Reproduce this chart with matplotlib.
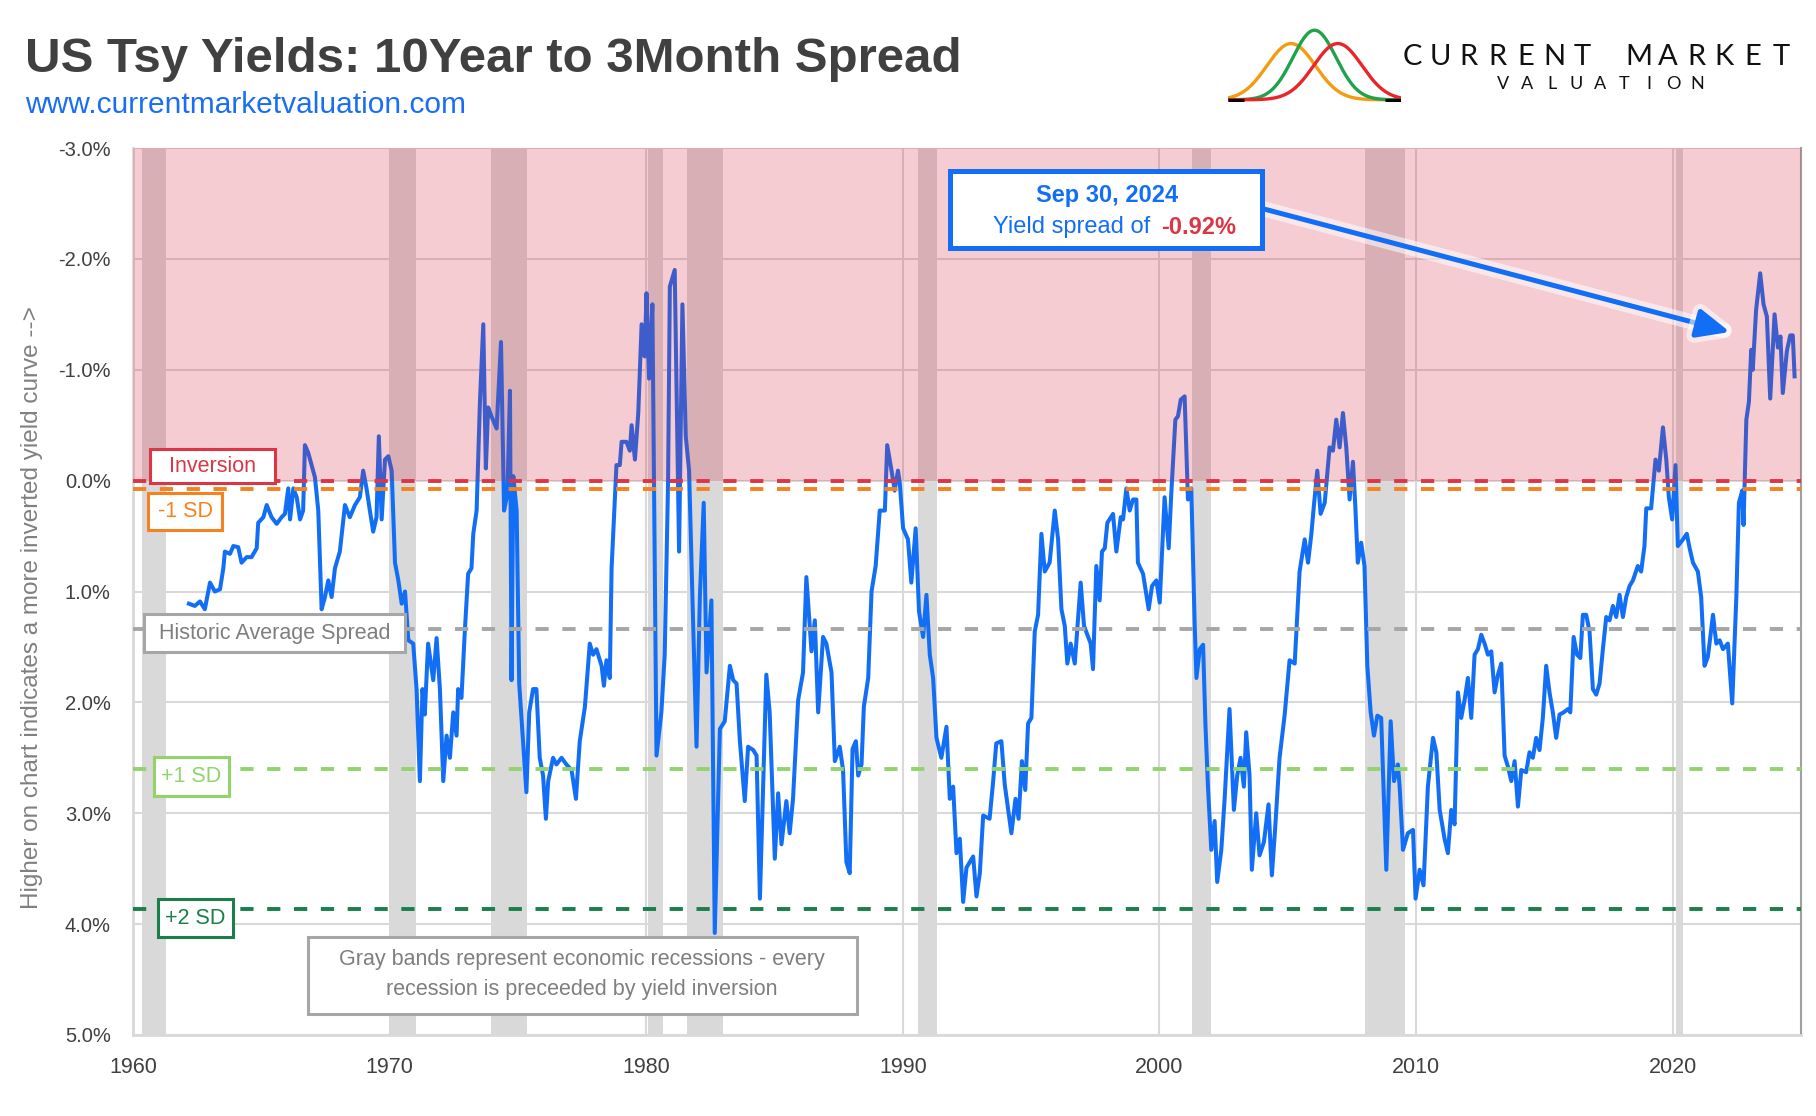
import numpy as np
import matplotlib.pyplot as plt
import matplotlib.patheffects as pe
from matplotlib.patches import Rectangle
from matplotlib.ticker import FuncFormatter

plt.rcParams['font.family'] = ['Liberation Sans', 'DejaVu Sans']

# 10Y minus 3M treasury spread (%)
years = [1962.18, 1962.41, 1962.61, 1962.80, 1963.00, 1963.19, 1963.39, 1963.52, 1963.58, 1963.78,
         1963.91, 1964.10, 1964.23, 1964.43, 1964.62, 1964.82, 1964.88, 1965.08, 1965.21, 1965.40,
         1965.60, 1965.79, 1965.92, 1966.05, 1966.12, 1966.25, 1966.38, 1966.51, 1966.63, 1966.70,
         1966.83, 1966.96, 1967.09, 1967.22, 1967.35, 1967.48, 1967.61, 1967.74, 1967.87, 1968.06,
         1968.26, 1968.45, 1968.65, 1968.84, 1968.97, 1969.10, 1969.23, 1969.36, 1969.49, 1969.58,
         1969.69, 1969.82, 1969.95, 1970.08, 1970.21, 1970.34, 1970.47, 1970.60, 1970.73, 1970.92,
         1971.05, 1971.18, 1971.28, 1971.37, 1971.50, 1971.70, 1971.83, 1971.96, 1972.09, 1972.22,
         1972.35, 1972.48, 1972.61, 1972.67, 1972.80, 1972.93, 1973.06, 1973.19, 1973.26, 1973.39,
         1973.52, 1973.65, 1973.75, 1973.84, 1973.97, 1974.17, 1974.34, 1974.46, 1974.59, 1974.69,
         1974.75, 1974.82, 1974.95, 1975.05, 1975.20, 1975.33, 1975.44, 1975.59, 1975.72, 1975.85,
         1975.98, 1976.09, 1976.18, 1976.37, 1976.50, 1976.70, 1976.89, 1977.09, 1977.26, 1977.41,
         1977.61, 1977.80, 1977.93, 1978.06, 1978.26, 1978.35, 1978.45, 1978.58, 1978.65, 1978.84,
         1978.97, 1979.04, 1979.23, 1979.36, 1979.43, 1979.56, 1979.69, 1979.82, 1979.94, 1980.01,
         1980.11, 1980.24, 1980.40, 1980.59, 1980.72, 1980.85, 1980.92, 1981.11, 1981.28, 1981.41,
         1981.54, 1981.67, 1981.80, 1981.96, 1982.09, 1982.24, 1982.35, 1982.54, 1982.67, 1982.87,
         1983.06, 1983.26, 1983.39, 1983.52, 1983.65, 1983.84, 1983.97, 1984.17, 1984.30, 1984.43,
         1984.68, 1984.81, 1985.01, 1985.14, 1985.27, 1985.46, 1985.59, 1985.72, 1985.92, 1986.11,
         1986.24, 1986.44, 1986.57, 1986.70, 1986.89, 1987.02, 1987.22, 1987.35, 1987.54, 1987.67,
         1987.80, 1987.93, 1988.04, 1988.17, 1988.26, 1988.39, 1988.48, 1988.65, 1988.78, 1988.94,
         1989.10, 1989.30, 1989.39, 1989.56, 1989.68, 1989.81, 1989.88, 1990.01, 1990.20, 1990.33,
         1990.50, 1990.63, 1990.79, 1990.92, 1991.05, 1991.18, 1991.31, 1991.50, 1991.70, 1991.83,
         1991.96, 1992.09, 1992.22, 1992.35, 1992.48, 1992.74, 1992.87, 1993.00, 1993.13, 1993.38,
         1993.52, 1993.64, 1993.84, 1993.97, 1994.23, 1994.39, 1994.51, 1994.64, 1994.77, 1994.88,
         1995.01, 1995.14, 1995.27, 1995.40, 1995.53, 1995.72, 1995.92, 1996.05, 1996.18, 1996.31,
         1996.41, 1996.54, 1996.70, 1996.93, 1997.06, 1997.22, 1997.32, 1997.41, 1997.54, 1997.67,
         1997.76, 1997.87, 1997.97, 1998.19, 1998.32, 1998.49, 1998.58, 1998.71, 1998.84, 1998.97,
         1999.10, 1999.16, 1999.36, 1999.58, 1999.71, 1999.88, 2000.01, 2000.20, 2000.36, 2000.46,
         2000.62, 2000.72, 2000.83, 2000.98, 2001.11, 2001.24, 2001.37, 2001.44, 2001.57, 2001.70,
         2001.79, 2001.89, 2002.02, 2002.15, 2002.25, 2002.41, 2002.54, 2002.73, 2002.90, 2003.03,
         2003.16, 2003.29, 2003.38, 2003.51, 2003.60, 2003.77, 2003.90, 2004.07, 2004.25, 2004.38,
         2004.51, 2004.68, 2004.88, 2005.07, 2005.27, 2005.46, 2005.66, 2005.79, 2005.92, 2006.02,
         2006.15, 2006.28, 2006.44, 2006.63, 2006.76, 2006.89, 2007.02, 2007.15, 2007.28, 2007.41,
         2007.54, 2007.63, 2007.73, 2007.86, 2007.99, 2008.10, 2008.23, 2008.36, 2008.49, 2008.64,
         2008.84, 2009.01, 2009.14, 2009.29, 2009.36, 2009.49, 2009.68, 2009.88, 2009.98, 2010.14,
         2010.29, 2010.46, 2010.66, 2010.79, 2010.92, 2011.11, 2011.24, 2011.37, 2011.50, 2011.63,
         2011.76, 2011.89, 2012.02, 2012.15, 2012.28, 2012.41, 2012.54, 2012.67, 2012.80, 2012.93,
         2013.06, 2013.19, 2013.32, 2013.45, 2013.58, 2013.71, 2013.84, 2013.97, 2014.10, 2014.29,
         2014.42, 2014.55, 2014.68, 2014.81, 2014.94, 2015.07, 2015.20, 2015.33, 2015.46, 2015.59,
         2015.75, 2015.92, 2016.01, 2016.14, 2016.27, 2016.40, 2016.50, 2016.63, 2016.76, 2016.89,
         2017.02, 2017.15, 2017.28, 2017.41, 2017.54, 2017.67, 2017.80, 2017.93, 2018.06, 2018.19,
         2018.32, 2018.45, 2018.64, 2018.77, 2018.90, 2018.97, 2019.16, 2019.33, 2019.46, 2019.62,
         2019.75, 2019.85, 2019.98, 2020.11, 2020.20, 2020.37, 2020.55, 2020.66, 2020.79, 2020.98,
         2021.11, 2021.24, 2021.37, 2021.57, 2021.70, 2021.83, 2021.96, 2022.15, 2022.32, 2022.48,
         2022.58, 2022.71, 2022.76, 2022.87, 2022.97, 2023.06, 2023.12, 2023.25, 2023.41, 2023.54,
         2023.67, 2023.80, 2023.97, 2024.10, 2024.20, 2024.29, 2024.45, 2024.58, 2024.68, 2024.75]
spread = [1.11, 1.13, 1.09, 1.16, 0.92, 1.00, 0.98, 0.79, 0.64, 0.66,
          0.59, 0.60, 0.74, 0.69, 0.69, 0.61, 0.38, 0.33, 0.22, 0.33,
          0.39, 0.33, 0.30, 0.07, 0.35, 0.07, 0.15, 0.35, 0.27, -0.32,
          -0.25, -0.14, -0.03, 0.27, 1.16, 1.05, 0.90, 1.05, 0.79, 0.64,
          0.22, 0.33, 0.22, 0.15, -0.09, 0.07, 0.27, 0.46, 0.33, -0.40,
          0.35, -0.19, -0.22, -0.09, 0.74, 0.90, 1.11, 1.00, 1.44, 1.47,
          1.88, 2.71, 1.88, 2.11, 1.47, 1.80, 1.42, 1.88, 2.71, 2.30,
          2.50, 2.09, 2.30, 1.88, 1.96, 1.36, 0.84, 0.79, 0.48, 0.27,
          -0.71, -1.41, -0.11, -0.66, -0.58, -0.47, -1.25, 0.27, 0.12, -0.81,
          1.80, -0.04, 0.27, 1.83, 2.35, 2.81, 2.09, 1.88, 1.88, 2.50,
          2.66, 3.05, 2.71, 2.50, 2.56, 2.50, 2.56, 2.61, 2.87, 2.35,
          2.04, 1.47, 1.57, 1.52, 1.67, 1.85, 1.62, 1.78, 0.79, -0.14,
          -0.14, -0.35, -0.35, -0.27, -0.50, -0.19, -0.61, -1.41, -1.12, -1.69,
          -0.92, -1.59, 2.48, 2.09, 1.57, 0.02, -1.75, -1.90, 0.64, -1.59,
          -0.40, -0.09, 1.05, 2.40, 1.05, 0.20, 1.73, 1.08, 4.08, 2.24,
          2.17, 1.67, 1.80, 1.83, 2.35, 2.89, 2.40, 2.43, 2.48, 3.77,
          1.75, 2.09, 3.41, 2.82, 3.28, 2.89, 3.18, 2.87, 1.98, 1.73,
          0.87, 1.54, 1.26, 2.09, 1.41, 1.47, 1.73, 2.53, 2.40, 2.61,
          3.44, 3.54, 2.42, 2.35, 2.66, 2.56, 2.04, 1.78, 1.00, 0.77,
          0.27, 0.27, -0.32, -0.09, 0.09, -0.09, 0.02, 0.43, 0.53, 0.92,
          0.43, 1.18, 1.41, 1.03, 1.57, 1.78, 2.32, 2.50, 2.22, 2.87,
          2.76, 3.36, 3.23, 3.80, 3.49, 3.39, 3.75, 3.54, 3.02, 3.05,
          2.71, 2.37, 2.35, 2.74, 3.18, 2.87, 3.05, 2.53, 2.79, 2.19,
          2.14, 1.36, 1.21, 0.48, 0.82, 0.74, 0.27, 0.53, 1.16, 1.31,
          1.65, 1.47, 1.65, 0.92, 1.31, 1.41, 1.47, 1.70, 0.77, 1.08,
          0.64, 0.61, 0.38, 0.30, 0.64, 0.33, 0.35, 0.07, 0.27, 0.17,
          0.17, 0.74, 0.84, 1.16, 0.95, 0.90, 1.10, 0.15, 0.61, 0.12,
          -0.55, -0.58, -0.73, -0.76, 0.17, 0.07, 1.28, 1.78, 1.52, 1.48,
          2.19, 2.76, 3.33, 3.07, 3.62, 3.33, 2.87, 2.06, 2.97, 2.66,
          2.50, 2.76, 2.27, 2.66, 3.51, 3.00, 3.38, 3.26, 2.92, 3.56,
          3.13, 2.50, 2.11, 1.62, 1.65, 0.82, 0.53, 0.74, 0.48, 0.22,
          -0.09, 0.30, 0.20, -0.30, -0.27, -0.55, -0.30, -0.61, -0.30, 0.17,
          -0.17, 0.22, 0.74, 0.56, 0.77, 1.67, 2.09, 2.30, 2.12, 2.14,
          3.51, 2.17, 2.71, 2.56, 2.76, 3.33, 3.18, 3.15, 3.77, 3.51,
          3.65, 2.76, 2.32, 2.45, 2.97, 3.23, 3.36, 2.97, 3.10, 1.91,
          2.14, 1.98, 1.78, 2.14, 1.57, 1.52, 1.39, 1.47, 1.57, 1.54,
          1.91, 1.75, 1.65, 2.48, 2.58, 2.71, 2.53, 2.94, 2.61, 2.63,
          2.45, 2.50, 2.32, 2.43, 2.14, 1.67, 1.91, 2.09, 2.32, 2.11,
          2.09, 2.06, 2.09, 1.41, 1.57, 1.60, 1.21, 1.21, 1.36, 1.88,
          1.93, 1.83, 1.52, 1.23, 1.26, 1.13, 1.23, 1.03, 1.23, 1.05,
          0.95, 0.90, 0.77, 0.82, 0.59, 0.25, 0.25, -0.19, -0.09, -0.48,
          -0.19, 0.15, 0.35, -0.14, 0.59, 0.54, 0.48, 0.61, 0.74, 0.82,
          1.05, 1.67, 1.59, 1.21, 1.47, 1.44, 1.52, 1.47, 2.01, 1.05,
          0.20, 0.09, 0.40, -0.55, -0.71, -1.18, -1.00, -1.54, -1.87, -1.59,
          -1.48, -0.74, -1.50, -1.20, -1.30, -0.79, -1.17, -1.31, -1.31, -0.94]

recession_start = [1960.35, 1969.97, 1973.95, 1980.05, 1981.59, 1990.59, 2001.27, 2008.02, 2020.14]
recession_end = [1961.29, 1971.03, 1975.37, 1980.67, 1982.99, 1991.33, 2002.02, 2009.58, 2020.40]

level_names = ['Inversion', '-1 SD', 'Historic Average Spread', '+1 SD', '+2 SD']
level_values = [0.0, 0.08, 1.34, 2.60, 3.86]
level_colors = ['#dc3545', '#f5821f', '#a6a6a6', '#92d36e', '#1a7f4b']
level_text_colors = ['#dc3545', '#f5821f', '#7f7f7f', '#92d36e', '#1a7f4b']

y_ticks = [-3, -2, -1, 0, 1, 2, 3, 4, 5]
x_ticks = [1960, 1970, 1980, 1990, 2000, 2010, 2020]

W, H = 1816, 1116
BLUE = '#126ff5'


def fx(x):
    return x / W


def fy(y):
    return 1 - y / H


fig = plt.figure(figsize=(W / 100, H / 100), dpi=100)
ax = fig.add_axes([fx(133), fy(1035), (1801 - 133) / W, (1035 - 148) / H])

ax.set_xlim(1960, 2025)
ax.set_ylim(5, -3)
ax.set_yticks(y_ticks)
ax.set_xticks(x_ticks)
ax.yaxis.set_major_formatter(FuncFormatter(lambda v, p: f'{v:.1f}%'))
ax.tick_params(axis='y', length=0, pad=16, labelsize=14.5, labelcolor='#404040')
ax.tick_params(axis='x', length=0, pad=16, labelsize=15.5, labelcolor='#404040')
ax.grid(True, color='#d9d9d9', lw=1.5)
ax.set_axisbelow(True)
for side in ['left', 'bottom']:
    ax.spines[side].set_color('#d9d9d9')
    ax.spines[side].set_linewidth(2)
ax.spines['right'].set_color('#a0a0a0')
ax.spines['right'].set_linewidth(1.5)
ax.spines['top'].set_visible(False)

for s, e in zip(recession_start, recession_end):
    ax.axvspan(s, e, color='#d9d9d9', lw=0, zorder=1)

ax.plot(years, spread, color=BLUE, lw=2.9, zorder=3, solid_joinstyle='round')

# pink "inverted" zone laid over the line and bands
ax.axhspan(-3, 0, color=(211 / 255, 37 / 255, 59 / 255), alpha=0.23, lw=0, zorder=4)

for v, c in zip(level_values, level_colors):
    ax.axhline(v, color=c, lw=2.8, dashes=(3.4, 3.5), dash_capstyle='butt', zorder=5)

# labelled boxes for the reference lines
boxes = [(150, 449, 275, 483), (148, 493, 222, 530), (144, 614, 405, 652),
         (154, 757, 229, 796), (158, 899, 233, 937)]
for (x0, y0, x1, y1), name, ec, tc in zip(boxes, level_names, level_colors, level_text_colors):
    fig.add_artist(Rectangle((fx(x0), fy(y1)), (x1 - x0) / W, (y1 - y0) / H, transform=fig.transFigure,
                             facecolor='white', edgecolor=ec, lw=2.2, zorder=10))
    fig.text(fx((x0 + x1) / 2), fy((y0 + y1) / 2), name, color=tc, fontsize=15.5,
             ha='center', va='center', zorder=11)

# note box
fig.add_artist(Rectangle((fx(308), fy(1014)), (857 - 308) / W, (1014 - 937) / H, transform=fig.transFigure,
                         facecolor='white', edgecolor='#a6a6a6', lw=2.2, zorder=10))
fig.text(fx(582), fy(960), 'Gray bands represent economic recessions - every', color='#7f7f7f',
         fontsize=15.5, ha='center', va='center', zorder=11)
fig.text(fx(582), fy(990), 'recession is preceeded by yield inversion', color='#7f7f7f',
         fontsize=15.5, ha='center', va='center', zorder=11)

# latest value callout
fig.add_artist(Rectangle((fx(950), fy(248)), (1262 - 950) / W, (248 - 171) / H, transform=fig.transFigure,
                         facecolor='white', edgecolor=BLUE, lw=3.6, zorder=10))
fig.text(fx(1107), fy(195), 'Sep 30, 2024', color=BLUE, fontsize=17, fontweight='bold',
         ha='center', va='center', zorder=11)
fig.text(fx(1150), fy(227), 'Yield spread of', color=BLUE, fontsize=17,
         ha='right', va='center', zorder=11)
fig.text(fx(1161), fy(227), '-0.92%', color='#dc3545', fontsize=17, fontweight='bold',
         ha='left', va='center', zorder=11)

arr = ax.annotate('', xy=(fx(1730), fy(332)), xytext=(fx(1264), fy(209)),
                  xycoords='figure fraction', textcoords='figure fraction',
                  arrowprops=dict(arrowstyle='-|>,head_length=0.5,head_width=0.22', mutation_scale=40,
                                  color=BLUE, lw=3.6, shrinkA=0, shrinkB=0),
                  zorder=9)
arr.arrow_patch.set_path_effects([pe.Stroke(linewidth=11, foreground='white', alpha=0.55), pe.Normal()])

# titles
fig.text(fx(25), fy(72), 'US Tsy Yields: 10Year to 3Month Spread', fontsize=35.5, fontweight='bold',
         color='#404040', ha='left', va='baseline')
fig.text(fx(25), fy(113), 'www.currentmarketvaluation.com', fontsize=21.5, color='#1a6ef5',
         ha='left', va='baseline')
fig.text(fx(32), fy(608), 'Higher on chart indicates a more inverted yield curve -->', fontsize=17.5,
         color='#808080', rotation=90, ha='center', va='center')

# logo
lax = fig.add_axes([fx(1228), fy(102), 173 / W, 74 / H])
lax.set_xlim(0, 1)
lax.set_ylim(0, 1)
lax.axis('off')
xs = np.linspace(0, 1, 300)
lax.plot(xs, 0.03 + 0.76 * np.exp(-0.5 * ((xs - 0.365) / 0.14) ** 2), color='#f39c12', lw=2.4, solid_capstyle='butt')
lax.plot(xs, 0.03 + 0.94 * np.exp(-0.5 * ((xs - 0.50) / 0.125) ** 2), color='#1fa34a', lw=2.4, solid_capstyle='butt')
lax.plot(xs, 0.03 + 0.76 * np.exp(-0.5 * ((xs - 0.635) / 0.14) ** 2), color='#e8262a', lw=2.4, solid_capstyle='butt')
lax.plot([0, 0.09], [0.03, 0.03], color='black', lw=2.4, solid_capstyle='butt')
lax.plot([0.91, 1], [0.03, 0.03], color='black', lw=2.4, solid_capstyle='butt')

for i, ch in enumerate('CURRENT MARKET'):
    fig.text(fx(1412 + i * 28.4), fy(65), ch, fontsize=21, color='#111111', ha='center',
             va='baseline', family='Lato')
for i, ch in enumerate('VALUATION'):
    fig.text(fx(1503 + i * 24.3), fy(89), ch, fontsize=13, color='#111111', ha='center',
             va='baseline', family='Lato')

fig.savefig('out.png', dpi=100)
